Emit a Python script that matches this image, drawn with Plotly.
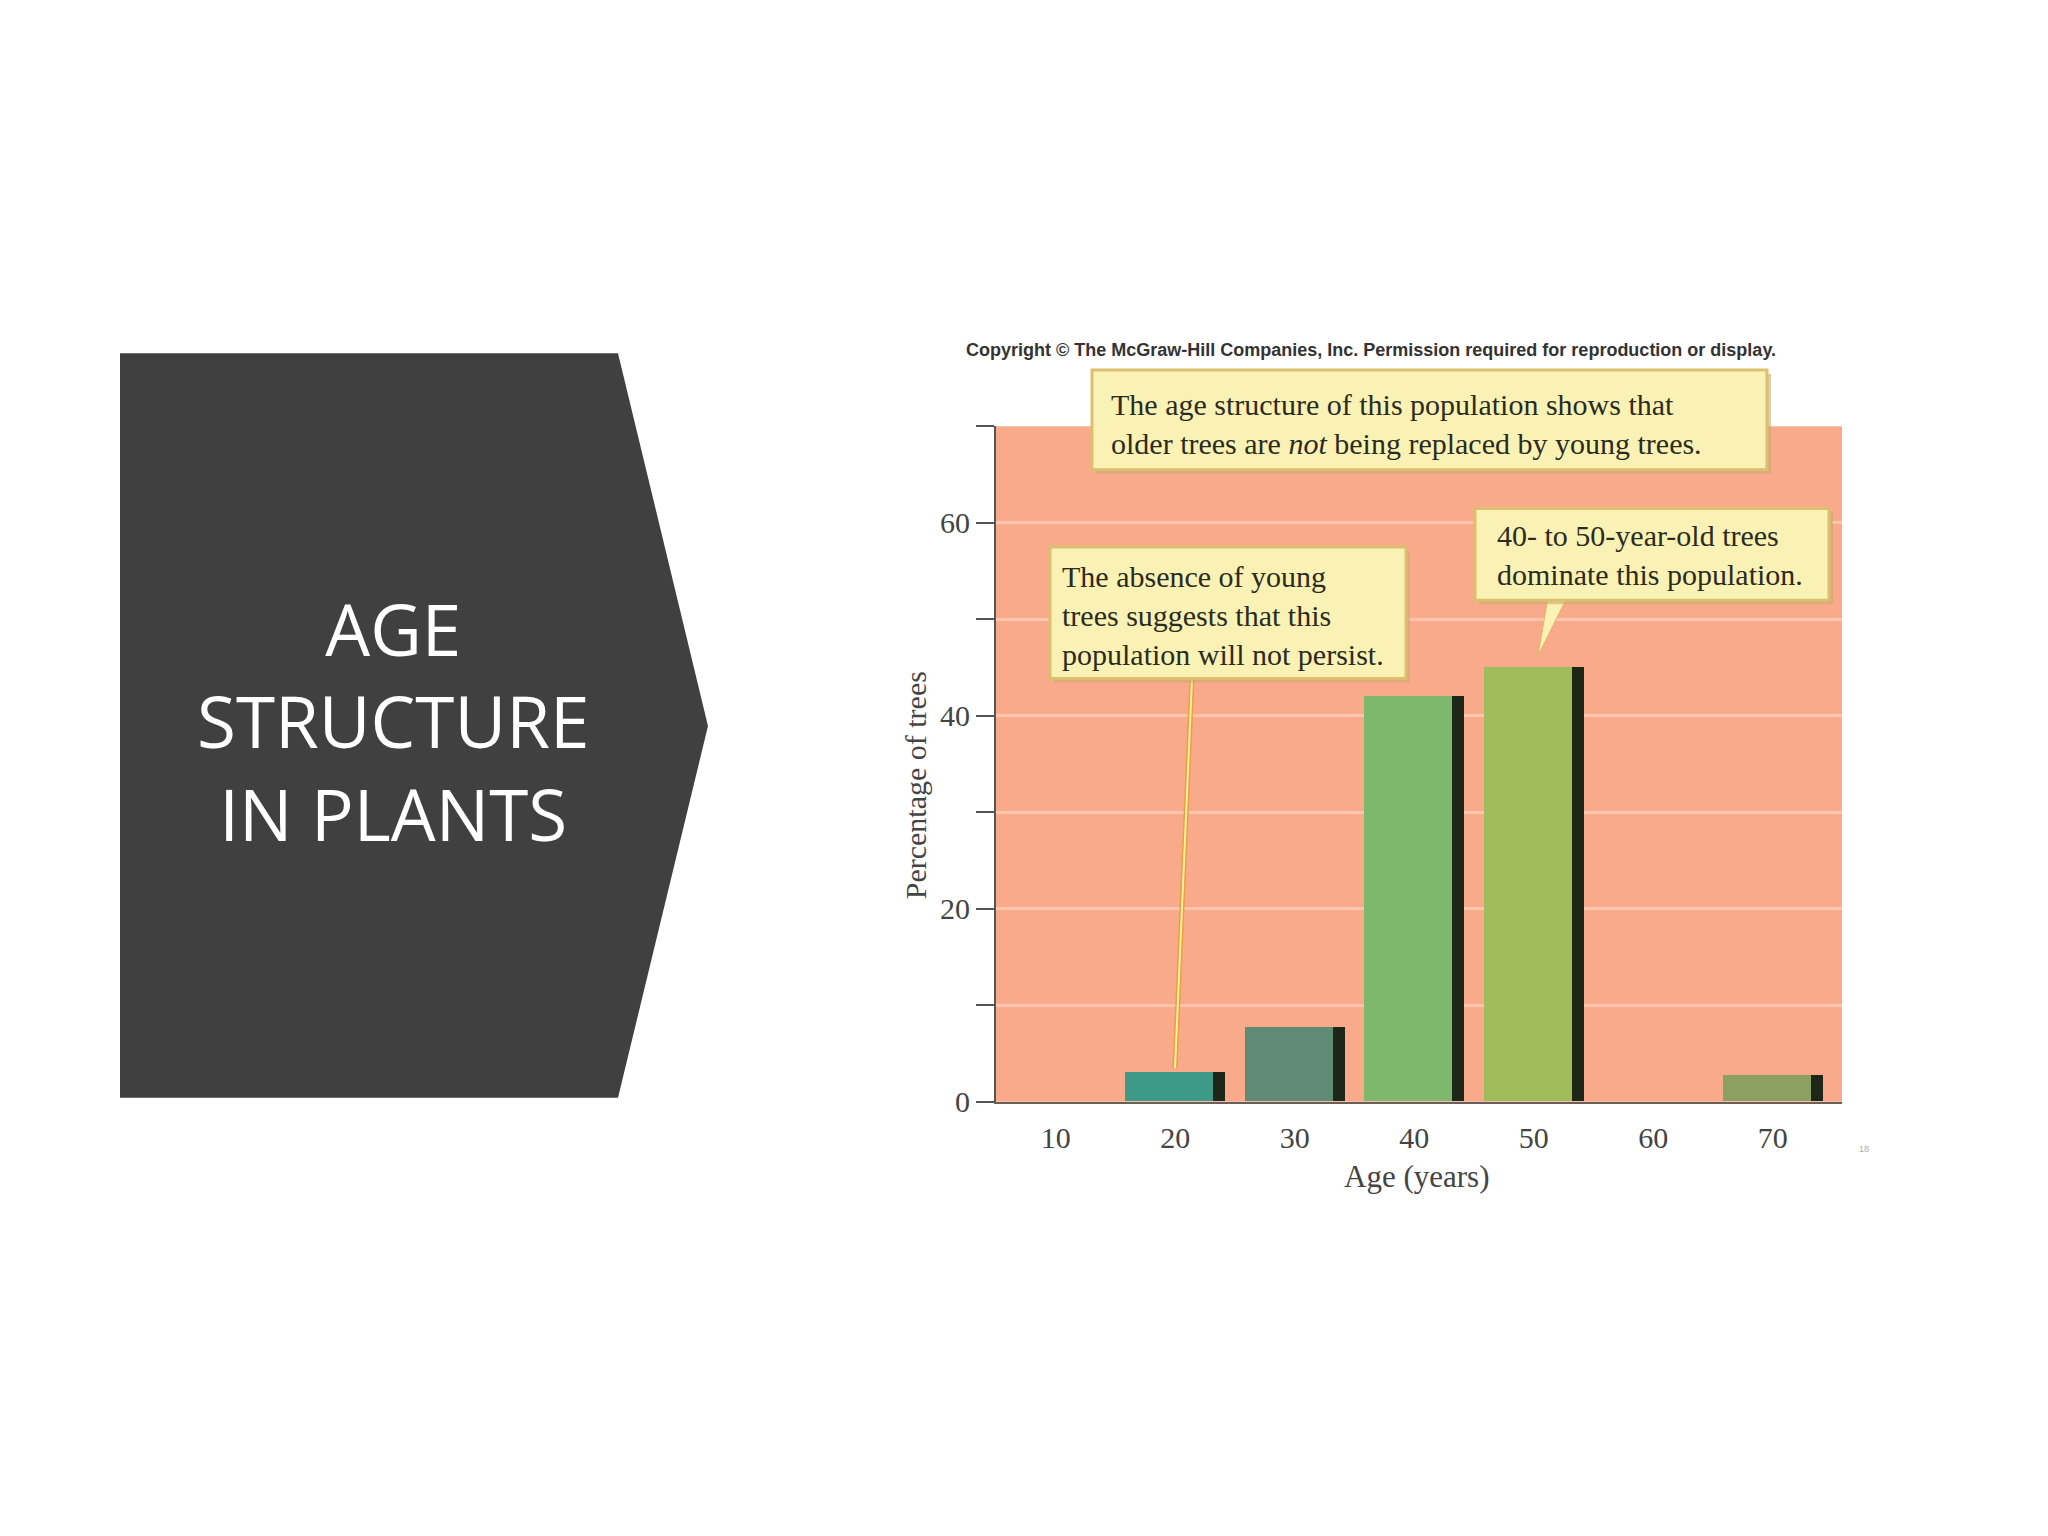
import plotly.graph_objects as go

# data
ages = [10, 20, 30, 40, 50, 60, 70]
percent = [0, 3, 7.7, 42, 45, 0, 2.7]
bar_colors = ["#3d9a86", "#3d9a86", "#5f8a74", "#7db86e", "#a0bc5a", "#8ca064", "#8ca064"]
y_ticks = [0, 10, 20, 30, 40, 50, 60, 70]
y_ticktext = ["0", "", "20", "", "40", "", "60", ""]

W, H = 2048, 1536


def px(x):
    return x / W


def py(y):
    return 1 - y / H


fig = go.Figure()

# dark side of each bar (fake 3d), then the coloured front on top
fig.add_trace(go.Bar(
    x=ages, y=percent, width=8.4, offset=-4.2,
    marker=dict(color="#1e2618", line=dict(width=0)),
    hoverinfo="skip", showlegend=False,
))
fig.add_trace(go.Bar(
    x=ages, y=percent, width=7.4, offset=-4.2,
    marker=dict(color=bar_colors, line=dict(width=0)),
    showlegend=False,
))

shapes = []

# title pentagon on the left
shapes.append(dict(
    type="path", xref="paper", yref="paper",
    path=(f"M {px(112)} {py(349)} L {px(610)} {py(349)} L {px(700)} {py(726)} "
          f"L {px(610)} {py(1102)} L {px(112)} {py(1102)} Z"),
    fillcolor="#404040", line=dict(width=0), layer="below",
))

# callout pointers
shapes.append(dict(type="line", xref="paper", yref="paper",
                   x0=px(1184), y0=py(678), x1=px(1167), y1=py(1072),
                   line=dict(color="#e8a040", width=5)))
shapes.append(dict(type="line", xref="paper", yref="paper",
                   x0=px(1184), y0=py(678), x1=px(1167), y1=py(1072),
                   line=dict(color="#fbf0a0", width=2)))
shapes.append(dict(
    type="path", xref="paper", yref="paper",
    path=f"M {px(1540)} {py(596)} L {px(1559)} {py(596)} L {px(1530)} {py(655)} Z",
    fillcolor="#faf2b4", line=dict(color="#e0b868", width=1),
))

# callout boxes
boxes = [
    (1084, 366, 1759, 467),
    (1042, 545, 1398, 678),
    (1467, 506, 1821, 599),
]
for x0, y0, x1, y1 in boxes:
    shapes.append(dict(type="rect", xref="paper", yref="paper",
                       x0=px(x0 + 4), y0=py(y0 + 4), x1=px(x1 + 4), y1=py(y1 + 4),
                       fillcolor="#c8a870", line=dict(width=0), opacity=0.6))
    shapes.append(dict(type="rect", xref="paper", yref="paper",
                       x0=px(x0), y0=py(y0), x1=px(x1), y1=py(y1),
                       fillcolor="#faf2b4", line=dict(color="#dcc070", width=3)))

serif = dict(family="Liberation Serif", size=30, color="#2b2b20")
annotations = [
    dict(x=px(1101), y=py(421), text="The age structure of this population shows that<br>"
         "older trees are <i>not</i> being replaced by young trees.",
         xanchor="left", align="left", font=serif),
    dict(x=px(1052), y=py(614), text="The absence of young<br>trees suggests that this<br>"
         "population will not persist.", xanchor="left", align="left", font=serif),
    dict(x=px(1487), y=py(553), text="40- to 50-year-old trees<br>dominate this population.",
         xanchor="left", align="left", font=serif),
    dict(x=px(1363), y=py(346), text="<b>Copyright © The McGraw-Hill Companies, Inc. "
         "Permission required for reproduction or display.</b>",
         font=dict(family="Liberation Sans", size=18, color="#333333")),
    dict(x=px(907), y=py(786), text="Percentage of trees", textangle=-90,
         font=dict(family="Liberation Serif", size=30, color="#444444")),
    dict(x=px(1408), y=py(1182), text="Age (years)",
         font=dict(family="Liberation Serif", size=31, color="#444444")),
    dict(x=px(1856), y=py(1154), text="18",
         font=dict(family="Liberation Sans", size=9, color="#aaaaaa")),
    dict(x=px(385), y=py(721), text="AGE<br>STRUCTURE<br>IN PLANTS",
         font=dict(family="Open Sans", size=71, color="white")),
]

for a in annotations:
    a.update(xref="paper", yref="paper", showarrow=False)
    a.setdefault("xanchor", "center")
    a.setdefault("yanchor", "middle")

fig.update_layout(
    width=W, height=H,
    margin=dict(l=0, r=0, t=0, b=0),
    paper_bgcolor="white",
    plot_bgcolor="#f8aa8a",
    barmode="overlay",
    bargap=0,
    shapes=shapes,
    annotations=annotations,
    xaxis=dict(
        domain=[px(988), px(1834)], range=[5, 75.8],
        tickvals=ages, ticks="", showgrid=False, zeroline=False,
        showline=True, linecolor="#6a5e58", linewidth=2,
        ticklabelstandoff=8,
        tickfont=dict(family="Liberation Serif", size=30, color="#444444"),
    ),
    yaxis=dict(
        domain=[py(1106), py(423)], range=[0, 70],
        tickvals=y_ticks, ticktext=y_ticktext,
        ticks="outside", ticklen=18, tickwidth=2, tickcolor="#555555",
        showline=True, linecolor="#555555", linewidth=2,
        showgrid=True, gridcolor="#fcc6ae", gridwidth=3, zeroline=False,
        tickfont=dict(family="Liberation Serif", size=30, color="#444444"),
    ),
)

fig.write_html("out.html")
